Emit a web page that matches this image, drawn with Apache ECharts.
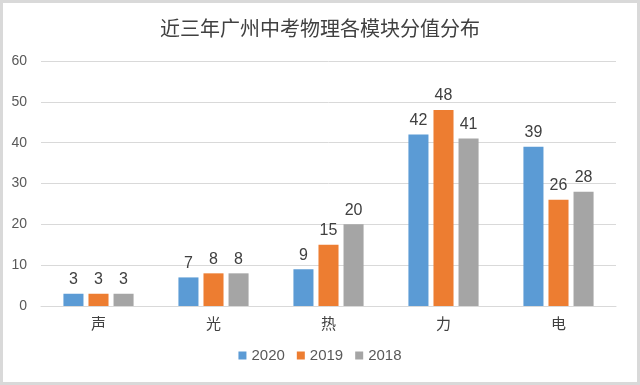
<!DOCTYPE html>
<html><head><meta charset="utf-8">
<script src="https://cdn.jsdelivr.net/npm/echarts@6/dist/echarts.min.js"></script>
<style>html,body{margin:0;padding:0;background:#fff}#c{width:640px;height:385px;box-sizing:border-box;border:3px solid #d9d9d9}</style>
</head><body><div id="c"></div>
<script>
var categories = ['声', '光', '热', '力', '电'];
var s2020 = [3, 7, 9, 42, 39];
var s2019 = [3, 8, 15, 48, 26];
var s2018 = [3, 8, 20, 41, 28];
var seriesNames = ['2020', '2019', '2018'];
var yTicks = [0, 10, 20, 30, 40, 50, 60];

var chart = echarts.init(document.getElementById('c'));
var font = '"Microsoft YaHei","Noto Sans CJK SC",sans-serif';
var label = {show: true, position: 'top', color: '#404040', fontSize: 16, fontFamily: 'Liberation Sans, Arial', distance: 6};
chart.setOption({
  animation: false,
  title: {text: '近三年广州中考物理各模块分值分布', left: 'center', top: 10,
    textStyle: {fontSize: 20, fontWeight: 'normal', color: '#404040', fontFamily: font}},
  legend: {bottom: 14, itemWidth: 8, itemHeight: 8, itemGap: 12, icon: 'rect',
    textStyle: {fontSize: 15, color: '#595959', fontFamily: 'Liberation Sans, Arial'}},
  grid: {left: 38, right: 21, top: 58, bottom: 76},
  xAxis: {type: 'category', data: categories,
    axisLine: {lineStyle: {color: '#d9d9d9'}}, axisTick: {show: false},
    axisLabel: {color: '#404040', fontSize: 15, fontFamily: font, margin: 10}},
  yAxis: {type: 'value', min: yTicks[0], max: yTicks[yTicks.length - 1], interval: 10,
    axisLine: {show: false}, axisTick: {show: false},
    axisLabel: {color: '#595959', fontSize: 14, fontFamily: 'Liberation Sans, Arial', margin: 14},
    splitLine: {lineStyle: {color: '#d9d9d9'}}},
  series: [
    {name: seriesNames[0], type: 'bar', data: s2020, itemStyle: {color: '#5B9BD5'}, barGap: '25%', barCategoryGap: '39%', label: label},
    {name: seriesNames[1], type: 'bar', data: s2019, itemStyle: {color: '#ED7D31'}, label: label},
    {name: seriesNames[2], type: 'bar', data: s2018, itemStyle: {color: '#A5A5A5'}, label: label}
  ]
});
</script></body></html>
